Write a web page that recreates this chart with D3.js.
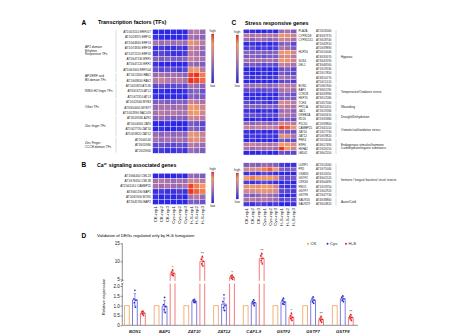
<!DOCTYPE html>
<html>
<head>
<meta charset="utf-8">
<script src="https://cdn.jsdelivr.net/npm/d3@7"></script>
<style>
body { margin: 0; background: #fff; }
svg { display: block; font-family: "Liberation Sans", Arial, sans-serif; }
</style>
</head>
<body>
<svg id="chart" width="474" height="336"></svg>
<script>
// Samples shared by every heatmap
var samples = ["CK-rep1", "CK-rep2", "CK-rep3", "Cys-rep1", "Cys-rep2", "Cys-rep3", "H₂S-rep1", "H₂S-rep2", "H₂S-rep3"];

// A: transcription factors (locus, name)
var tfGenes = [
    ["AT1G19210", "ERF017"], ["AT1G28370", "ERF11"], ["AT2G44840", "ERF13"], ["AT1G74930", "ERF18"],
    ["AT1G71520", "ERF20"], ["AT5G47230", "ERF5"], ["AT5G47220", "ERF2"], ["AT5G61600", "ERF104"],
    ["AT1G13260", "RAV1"], ["AT1G68840", "RAV2"],
    ["AT1G20823", "ATL80"], ["AT3G16720", "ATL2"], ["AT1G72310", "ATL3"],
    ["AT1G22640", "MYB3"], ["AT3G50060", "MYB77"], ["AT1G52890", "NAC019"],
    ["AT3G19580", "AZF2"], ["AT5G04340", "ZAT6"], ["AT1G27730", "ZAT10"], ["AT5G59820", "ZAT12"],
    ["AT2G40140", ""], ["AT3G55980", ""], ["AT2G25900", ""]
];
var tfValues = [
    [0.05,0.05,0.05,0.08,0.05,0.05,0.45,0.5,0.4],
    [0.1,0.08,0.05,0.05,0.05,0.1,0.45,0.4,0.35],
    [0.45,0.4,0.45,0.4,0.45,0.4,0.75,0.65,0.5],
    [0.1,0.15,0.1,0.1,0.15,0.1,0.55,0.5,0.4],
    [0.15,0.2,0.15,0.1,0.1,0.15,0.5,0.45,0.35],
    [0.35,0.3,0.35,0.3,0.3,0.35,0.55,0.5,0.45],
    [0.1,0.05,0.05,0.05,0.05,0.05,0.4,0.35,0.3],
    [0.25,0.2,0.25,0.2,0.15,0.2,0.75,0.8,0.5],
    [0.4,0.45,0.4,0.45,0.4,0.35,0.95,0.98,0.85],
    [0.5,0.55,0.5,0.45,0.5,0.45,0.98,0.95,0.88],
    [0.2,0.25,0.2,0.2,0.25,0.2,0.45,0.4,0.35],
    [0.05,0.1,0.05,0.05,0.05,0.1,0.3,0.35,0.25],
    [0.1,0.05,0.1,0.05,0.1,0.05,0.35,0.3,0.3],
    [0.3,0.35,0.3,0.3,0.35,0.3,0.55,0.5,0.45],
    [0.4,0.45,0.45,0.4,0.45,0.4,0.8,0.75,0.6],
    [0.45,0.5,0.45,0.5,0.45,0.45,0.75,0.8,0.6],
    [0.35,0.4,0.35,0.3,0.35,0.3,0.6,0.55,0.5],
    [0.05,0.05,0.1,0.05,0.05,0.05,0.3,0.25,0.2],
    [0.05,0.1,0.05,0.05,0.1,0.05,0.35,0.3,0.25],
    [0.4,0.35,0.4,0.35,0.4,0.35,0.75,0.7,0.55],
    [0.45,0.4,0.45,0.4,0.45,0.4,0.65,0.7,0.55],
    [0.2,0.25,0.2,0.2,0.25,0.2,0.5,0.45,0.4],
    [0.1,0.15,0.1,0.1,0.15,0.1,0.4,0.35,0.3]
];
var tfGroups = [
    { label: ["AP2 domain", "Ethylene", "Responsive TFs"], from: 0, to: 7 },
    { label: ["AP2/ERF and", "B3 domain TFs"], from: 8, to: 9 },
    { label: ["RING-H2 finger TFs"], from: 10, to: 12 },
    { label: ["Other TFs"], from: 13, to: 15 },
    { label: ["Zinc finger TFs"], from: 16, to: 19 },
    { label: ["Zinc Finger", "CCCH domain TFs"], from: 20, to: 22 }
];

// B: Ca2+ signalling genes
var caGenes = [
    ["AT1G66400", "CML23"], ["AT1G76650", "CML38"], ["AT2G41010", "CAMBP25"],
    ["AT3G61190", "BAP1"], ["AT5G61900", "BON1"], ["AT2G45760", "BAP2"]
];
var caValues = [
    [0.05,0.1,0.05,0.05,0.1,0.05,0.4,0.35,0.3],
    [0.45,0.5,0.45,0.4,0.45,0.4,0.6,0.55,0.5],
    [0.45,0.4,0.45,0.4,0.4,0.45,0.95,0.85,0.8],
    [0.1,0.15,0.1,0.1,0.15,0.1,0.98,0.9,0.85],
    [0.1,0.05,0.1,0.05,0.1,0.05,0.45,0.5,0.4],
    [0.05,0.05,0.05,0.05,0.05,0.05,0.3,0.3,0.25]
];

// C: stress responsive genes, upper block (name, locus)
var stressGenes = [
    ["PLA2A", "AT2G26560"], ["CYP81D8", "AT4G37370"], ["CYP81D11", "AT3G28740"], ["", "AT1G43910"],
    ["", "AT5G39890"], ["HUP26", "AT5G10040"], ["", "AT4G33070"], ["SUS4", "AT3G43190"],
    ["DEL1", "AT3G48160"], ["", "AT1G19530"], ["", "AT2G17850"], ["", "AT4G10270"],
    ["", "AT5G15120"], ["BON1", "AT5G61900"], ["BAP1", "AT3G61190"], ["COR28", "AT4G33980"],
    ["HSP70", "AT3G12580"], ["TCH4", "AT5G57560"], ["PP2CA", "AT3G11410"], ["JAZ1", "AT1G19180"],
    ["DREB2A", "AT5G05410"], ["RD20", "AT2G33380"], ["P5CS1", "AT2G39800"], ["CAMBP25", "AT2G41010"],
    ["ZAT10", "AT1G27730"], ["ZAT12", "AT5G59820"], ["PER4", "AT1G14540"], ["ERF6", "AT4G17490"],
    ["HSFA2", "AT2G26150"], ["LBD41", "AT3G02550"]
];
var stressValues = [
    [0.1,0.1,0.05,0.05,0.1,0.05,0.4,0.45,0.3],
    [0.5,0.45,0.5,0.45,0.5,0.45,0.75,0.7,0.55],
    [0.4,0.35,0.45,0.4,0.35,0.4,0.6,0.55,0.45],
    [0.05,0.1,0.05,0.05,0.05,0.1,0.3,0.35,0.2],
    [0.15,0.2,0.1,0.15,0.1,0.15,0.45,0.4,0.3],
    [0.35,0.3,0.35,0.3,0.3,0.35,0.75,0.8,0.6],
    [0.3,0.35,0.3,0.25,0.3,0.3,0.6,0.65,0.5],
    [0.45,0.4,0.45,0.4,0.45,0.4,0.8,0.75,0.6],
    [0.25,0.3,0.25,0.2,0.25,0.2,0.55,0.5,0.45],
    [0.05,0.05,0.1,0.05,0.05,0.05,0.25,0.3,0.2],
    [0.1,0.05,0.05,0.1,0.05,0.05,0.3,0.25,0.2],
    [0.15,0.1,0.15,0.1,0.1,0.15,0.45,0.4,0.35],
    [0.05,0.05,0.05,0.05,0.05,0.05,0.2,0.25,0.15],
    [0.4,0.4,0.45,0.4,0.35,0.4,0.55,0.5,0.5],
    [0.2,0.25,0.2,0.2,0.25,0.2,0.45,0.5,0.4],
    [0.05,0.1,0.05,0.05,0.1,0.05,0.35,0.3,0.25],
    [0.1,0.05,0.1,0.1,0.05,0.1,0.3,0.35,0.3],
    [0.2,0.15,0.2,0.15,0.1,0.15,0.65,0.6,0.5],
    [0.3,0.35,0.3,0.3,0.35,0.3,0.55,0.5,0.45],
    [0.1,0.1,0.05,0.1,0.1,0.05,0.4,0.45,0.35],
    [0.2,0.25,0.2,0.15,0.2,0.2,0.5,0.45,0.4],
    [0.05,0.05,0.1,0.05,0.05,0.05,0.3,0.3,0.25],
    [0.4,0.35,0.4,0.4,0.35,0.4,0.6,0.55,0.5],
    [0.55,0.5,0.55,0.5,0.55,0.5,0.95,0.9,0.75],
    [0.1,0.05,0.1,0.05,0.05,0.1,0.35,0.3,0.25],
    [0.1,0.15,0.1,0.1,0.15,0.1,0.7,0.65,0.45],
    [0.05,0.1,0.05,0.05,0.05,0.05,0.3,0.25,0.2],
    [0.5,0.55,0.5,0.5,0.45,0.5,0.8,0.75,0.65],
    [0.45,0.4,0.45,0.4,0.45,0.4,0.98,0.8,0.6],
    [0.05,0.05,0.05,0.1,0.05,0.05,0.25,0.2,0.2]
];
var stressGroups = [
    { label: ["Hypoxia"], from: 0, to: 12 },
    { label: ["Temperature/Oxidative stress"], from: 13, to: 16 },
    { label: ["Wounding"], from: 17, to: 19 },
    { label: ["Drought/Dehydration"], from: 20, to: 21 },
    { label: ["Osmotic/salt/oxidative stress"], from: 22, to: 25 },
    { label: ["Endogenous stimulus/hormone", "/carbohydrate/organic substance"], from: 26, to: 29 }
];

// C: lower block
var immuneGenes = [
    ["LURP1", "AT2G14560"], ["PR5", "AT1G75040"], ["OSM34", "AT4G11650"], ["GSTF2", "AT4G02520"],
    ["CRK36", "AT4G04490"], ["FMO1", "AT1G19250"], ["GSTF7", "AT1G02920"], ["GSTF8", "AT2G47730"],
    ["SAUR16", "AT4G38860"], ["SAUR29", "AT3G03820"]
];
var immuneValues = [
    [0.3,0.35,0.3,0.4,0.35,0.3,0.15,0.1,0.1],
    [0.6,0.65,0.7,0.85,0.9,0.8,0.35,0.3,0.35],
    [0.1,0.15,0.1,0.2,0.15,0.1,0.05,0.05,0.05],
    [0.8,0.85,0.8,0.75,0.8,0.7,0.3,0.25,0.3],
    [0.15,0.1,0.15,0.2,0.15,0.1,0.05,0.1,0.05],
    [0.7,0.75,0.7,0.8,0.75,0.6,0.15,0.1,0.15],
    [0.6,0.65,0.7,0.75,0.7,0.65,0.2,0.2,0.15],
    [0.35,0.3,0.35,0.45,0.4,0.35,0.1,0.05,0.1],
    [0.45,0.5,0.45,0.5,0.45,0.4,0.2,0.25,0.2],
    [0.15,0.1,0.2,0.15,0.1,0.15,0.05,0.05,0.1]
];
var immuneGroups = [
    { label: ["Immune / fungus/ bacteria/ virus/ insects"], from: 0, to: 7 },
    { label: ["Auxin/Cold"], from: 8, to: 9 }
];

// D: qRT-PCR validation
var qpcrGenes = ["BON1", "BAP1", "ZAT10", "ZAT12", "CAF1-9", "GSTF2", "GSTF7", "GSTF8"];
var ckValues = [1, 1, 1, 1, 1, 1, 1, 1];
var cysPoints = [
    [1.78, 1.35, 1.28, 1.15, 0.92],
    [1.42, 1.05, 0.95, 0.8, 0.65],
    [1.32, 1.28, 1.22, 1.18, 1.15],
    [1.55, 1.2, 1.0, 0.9, 0.75],
    [1.3, 1.2, 1.15, 1.1, 1.0],
    [1.38, 1.28, 1.18, 1.1, 1.06],
    [1.45, 1.35, 1.28, 1.2, 1.12],
    [1.5, 1.42, 1.35, 1.28, 1.2]
];
var h2sPoints = [
    [0.72, 0.68, 0.62, 0.58, 0.5],
    [7.6, 7.0, 6.6, 6.3, 6.0],
    [11.4, 10.6, 10.0, 9.3, 8.7],
    [6.2, 5.9, 5.6, 5.3, 5.0],
    [12.2, 11.5, 10.8, 10.2, 9.3],
    [0.62, 0.48, 0.4, 0.35, 0.25],
    [0.45, 0.35, 0.3, 0.25, 0.15],
    [0.55, 0.45, 0.4, 0.35, 0.25]
];
var h2sStars = ["", "*", "**", "*", "**", "*", "**", "**"];
var seriesNames = ["CK", "Cys", "H₂S"];

var svg = d3.select("#chart");
svg.append("rect").attr("width", 474).attr("height", 336).attr("fill", "#fff");

// blue - purple - salmon - red, same scale for all heatmaps
var heat = d3.scaleLinear()
    .domain([0, 0.3, 0.55, 0.8, 1])
    .range(["#1c1cee", "#7a5cc2", "#c98099", "#f29a62", "#ee2418"]);

var defs = svg.append("defs");
var grad = defs.append("linearGradient").attr("id", "heatGrad")
    .attr("x1", 0).attr("y1", 1).attr("x2", 0).attr("y2", 0);
heat.domain().forEach(function(d) {
    grad.append("stop").attr("offset", d).attr("stop-color", heat(d));
});

function drawHeatmap(x0, x1, y0, rowH, values) {
    var x = d3.scaleBand().domain(samples).range([x0, x1]);
    var y = d3.scaleBand().domain(d3.range(values.length)).range([y0, y0 + rowH * values.length]);
    var g = svg.append("g");
    values.forEach(function(row, i) {
        g.selectAll(null)
            .data(row)
            .enter().append("rect")
            .attr("x", function(d, j) { return x(samples[j]); })
            .attr("y", y(i))
            .attr("width", x.bandwidth())
            .attr("height", y.bandwidth())
            .attr("fill", function(d) { return heat(d); })
            .attr("stroke", "#fff")
            .attr("stroke-width", 0.35);
    });
    return { x: x, y: y };
}

function drawColorbar(cx, top, bottom) {
    svg.append("rect")
        .attr("x", cx - 1.2).attr("y", top)
        .attr("width", 2.4).attr("height", bottom - top)
        .attr("fill", "url(#heatGrad)")
        .attr("stroke", "#555").attr("stroke-width", 0.25);
    svg.append("text").attr("x", cx).attr("y", top - 1.6)
        .attr("text-anchor", "middle").attr("font-size", 3.4).attr("fill", "#333").text("high");
    svg.append("text").attr("x", cx).attr("y", bottom + 4)
        .attr("text-anchor", "middle").attr("font-size", 3.4).attr("fill", "#333").text("low");
}

function drawGroups(groups, y, bx, tx, anchor) {
    groups.forEach(function(gr) {
        var top = y(gr.from) + 0.6, bot = y(gr.to) + y.bandwidth() - 0.6;
        svg.append("line")
            .attr("x1", bx).attr("x2", bx).attr("y1", top).attr("y2", bot)
            .attr("stroke", "#999").attr("stroke-width", 0.35);
        var mid = (top + bot) / 2 - (gr.label.length - 1) * 1.8 + 1;
        gr.label.forEach(function(line, k) {
            svg.append("text")
                .attr("x", tx).attr("y", mid + k * 3.6)
                .attr("text-anchor", anchor)
                .attr("font-size", 3.1).attr("fill", "#222")
                .text(line);
        });
    });
}

function panelTitle(letter, lx, title, tx, ty, bold, size) {
    svg.append("text").attr("x", lx).attr("y", ty + 0.5)
        .attr("font-size", 6.5).attr("font-weight", "bold").text(letter);
    svg.append("text").attr("x", tx).attr("y", ty)
        .attr("font-size", size).attr("font-weight", bold ? "bold" : "normal").text(title);
}

function sampleLabels(x, yTop) {
    svg.selectAll(null)
        .data(samples)
        .enter().append("text")
        .attr("transform", function(d) {
            return "translate(" + (x(d) + x.bandwidth() / 2) + "," + yTop + ") rotate(-90)";
        })
        .attr("text-anchor", "end")
        .attr("dy", "0.35em")
        .attr("font-size", 4.4)
        .attr("fill", "#222")
        .text(function(d) { return d; });
}

// ---------- A ----------
panelTitle("A", 81.5, "Transcription factors (TFs)", 98, 24, true, 5.4);
var hmA = drawHeatmap(152.7, 205.7, 29.3, 5.39, tfValues);
tfGenes.forEach(function(d, i) {
    svg.append("text")
        .attr("x", 151).attr("y", hmA.y(i) + hmA.y.bandwidth() / 2)
        .attr("dy", "0.35em").attr("text-anchor", "end")
        .attr("font-size", 3).attr("fill", "#222")
        .text(d[0] + "  " + d[1]);
});
drawGroups(tfGroups, hmA.y, 116, 85, "start");
drawColorbar(212.7, 34, 83);

// ---------- B ----------
panelTitle("B", 81.5, "Ca²⁺ signaling associated genes", 97, 166.5, true, 5.2);
var hmB = drawHeatmap(152.7, 205.7, 173.3, 5.2, caValues);
caGenes.forEach(function(d, i) {
    svg.append("text")
        .attr("x", 151).attr("y", hmB.y(i) + hmB.y.bandwidth() / 2)
        .attr("dy", "0.35em").attr("text-anchor", "end")
        .attr("font-size", 3).attr("fill", "#222")
        .text(d[0] + "  " + d[1]);
});
drawColorbar(212.7, 172, 203);
sampleLabels(hmB.x, 206);

// ---------- C ----------
panelTitle("C", 231.5, "Stress responsive genes", 245, 24.5, true, 5.4);
var hmC1 = drawHeatmap(243.3, 296.7, 29.3, 4.19, stressValues);
var hmC2 = drawHeatmap(243.3, 296.7, 162.8, 4.35, immuneValues);
[[stressGenes, hmC1], [immuneGenes, hmC2]].forEach(function(pair) {
    pair[0].forEach(function(d, i) {
        var yy = pair[1].y(i) + pair[1].y.bandwidth() / 2;
        svg.append("text").attr("x", 298.5).attr("y", yy).attr("dy", "0.35em")
            .attr("font-size", 2.9).attr("fill", "#222").text(d[0]);
        svg.append("text").attr("x", 316).attr("y", yy).attr("dy", "0.35em")
            .attr("font-size", 2.9).attr("fill", "#222").text(d[1]);
    });
});
drawGroups(stressGroups, hmC1.y, 336, 341, "start");
drawGroups(immuneGroups, hmC2.y, 336, 341, "start");
drawColorbar(237.3, 35, 83);
drawColorbar(237.3, 173, 199);
sampleLabels(hmC2.x, 208);

// ---------- D ----------
panelTitle("D", 81.5, "Validation of DEGs regulated only by H₂S fumigation", 97, 237, false, 4.2);

var colors = { CK: "#f0a05a", Cys: "#5a5ae0", "H₂S": "#f05a5a" };
var dotColors = { CK: "#f0a05a", Cys: "#2f2fc8", "H₂S": "#e01e1e" };

var x = d3.scaleBand().domain(qpcrGenes).range([120.2, 357.8]);
var xs = d3.scaleBand().domain(seriesNames).range([2.7, 26.7]).paddingInner(0.4).paddingOuter(0.2);
var yLow = d3.scaleLinear().domain([0, 2]).range([325.3, 286]);
var yUp = d3.scaleLinear().domain([5, 15]).range([279.3, 243.3]);
function yv(v) { return v <= 2.1 ? yLow(v) : yUp(v); }

var axisX = 122.3;
// axis lines with a break between 2 and 5
svg.append("line").attr("x1", axisX).attr("x2", axisX).attr("y1", yLow(0)).attr("y2", yLow(2.12))
    .attr("stroke", "#222").attr("stroke-width", 0.5);
svg.append("line").attr("x1", axisX).attr("x2", axisX).attr("y1", yUp(4.55)).attr("y2", yUp(15))
    .attr("stroke", "#222").attr("stroke-width", 0.5);
[yLow(2.12), yUp(4.55)].forEach(function(yy) {
    svg.append("line").attr("x1", axisX - 1.3).attr("x2", axisX + 1.3)
        .attr("y1", yy + 0.7).attr("y2", yy - 0.7)
        .attr("stroke", "#222").attr("stroke-width", 0.5);
});

var lowAxis = svg.append("g")
    .attr("transform", "translate(" + axisX + ",0)")
    .call(d3.axisLeft(yLow).tickValues([0, 0.5, 1, 1.5, 2]).tickSize(1.8).tickSizeOuter(0)
        .tickFormat(function(d) { return d === 0 ? "0" : d.toFixed(1); }));
var upAxis = svg.append("g")
    .attr("transform", "translate(" + axisX + ",0)")
    .call(d3.axisLeft(yUp).tickValues([5, 10, 15]).tickSize(1.8).tickSizeOuter(0));
[lowAxis, upAxis].forEach(function(a) {
    a.select(".domain").remove();
    a.selectAll("line").attr("stroke", "#222").attr("stroke-width", 0.5);
    a.selectAll("text").attr("font-size", 4.6).attr("fill", "#222").attr("x", -2.5)
        .attr("font-family", "Liberation Sans, Arial, sans-serif");
});

svg.append("text")
    .attr("transform", "translate(104.5,297) rotate(-90)")
    .attr("text-anchor", "middle")
    .attr("font-size", 4.2).attr("fill", "#222")
    .text("Relative expression");

// x axis
svg.append("line").attr("x1", axisX).attr("x2", 358).attr("y1", yLow(0)).attr("y2", yLow(0))
    .attr("stroke", "#222").attr("stroke-width", 0.5);
svg.selectAll(".glabel")
    .data(qpcrGenes)
    .enter().append("text")
    .attr("class", "glabel")
    .attr("x", function(d) { return x(d) + xs("Cys") + xs.bandwidth() / 2; })
    .attr("y", 332.5)
    .attr("text-anchor", "middle")
    .attr("font-size", 4.2).attr("font-weight", "bold").attr("font-style", "italic")
    .attr("fill", "#222")
    .text(function(d) { return d; });

// bars, drawn as open outlines
function barPath(x0, w, v) {
    if (v <= 2.1) {
        return "M" + x0 + "," + yLow(0) + "V" + yLow(v) + "H" + (x0 + w) + "V" + yLow(0);
    }
    // broken bar: sides only below the break, closed top above it
    return "M" + x0 + "," + yLow(0) + "V" + yLow(2.12) +
        "M" + (x0 + w) + "," + yLow(0) + "V" + yLow(2.12) +
        "M" + x0 + "," + yUp(4.55) + "V" + yUp(v) + "H" + (x0 + w) + "V" + yUp(4.55);
}

qpcrGenes.forEach(function(gene, i) {
    var sets = [
        { s: "CK", mean: ckValues[i], pts: [] },
        { s: "Cys", mean: d3.mean(cysPoints[i]), sd: d3.deviation(cysPoints[i]), pts: cysPoints[i] },
        { s: "H₂S", mean: d3.mean(h2sPoints[i]), sd: d3.deviation(h2sPoints[i]), pts: h2sPoints[i] }
    ];
    sets.forEach(function(d) {
        var bx = x(gene) + xs(d.s), bw = xs.bandwidth(), cx = bx + bw / 2;
        svg.append("path")
            .attr("d", barPath(bx, bw, d.mean))
            .attr("fill", "none")
            .attr("stroke", colors[d.s])
            .attr("stroke-width", 0.8);
        if (d.sd) {
            var lo = yv(d.mean - d.sd), hi = yv(d.mean + d.sd);
            svg.append("line").attr("x1", cx).attr("x2", cx).attr("y1", lo).attr("y2", hi)
                .attr("stroke", dotColors[d.s]).attr("stroke-width", 0.5);
            [lo, hi].forEach(function(yy) {
                svg.append("line").attr("x1", cx - 1.3).attr("x2", cx + 1.3).attr("y1", yy).attr("y2", yy)
                    .attr("stroke", dotColors[d.s]).attr("stroke-width", 0.5);
            });
        }
        svg.selectAll(null)
            .data(d.pts)
            .enter().append("circle")
            .attr("cx", function(v, k) { return cx + [0, -1.1, 1.1, -0.6, 0.6][k]; })
            .attr("cy", function(v) { return yv(v); })
            .attr("r", 0.85)
            .attr("fill", dotColors[d.s]);
        if (d.s === "H₂S" && h2sStars[i]) {
            var top = yv(Math.max(d3.max(d.pts), d.mean + d.sd));
            svg.append("text").attr("x", cx).attr("y", top - 1.2)
                .attr("text-anchor", "middle").attr("font-size", 4.2)
                .attr("fill", "#222").text(h2sStars[i]);
        }
    });
});

// legend
var legend = svg.append("g").attr("transform", "translate(308,245)");
seriesNames.forEach(function(s, i) {
    var lx = [0, 19.5, 38][i];
    legend.append("circle").attr("cx", lx).attr("cy", -1.3).attr("r", 1).attr("fill", dotColors[s]);
    legend.append("text").attr("x", lx + 2.5).attr("y", 0)
        .attr("font-size", 4.3).attr("fill", "#222").text(s);
});
</script>
</body>
</html>
